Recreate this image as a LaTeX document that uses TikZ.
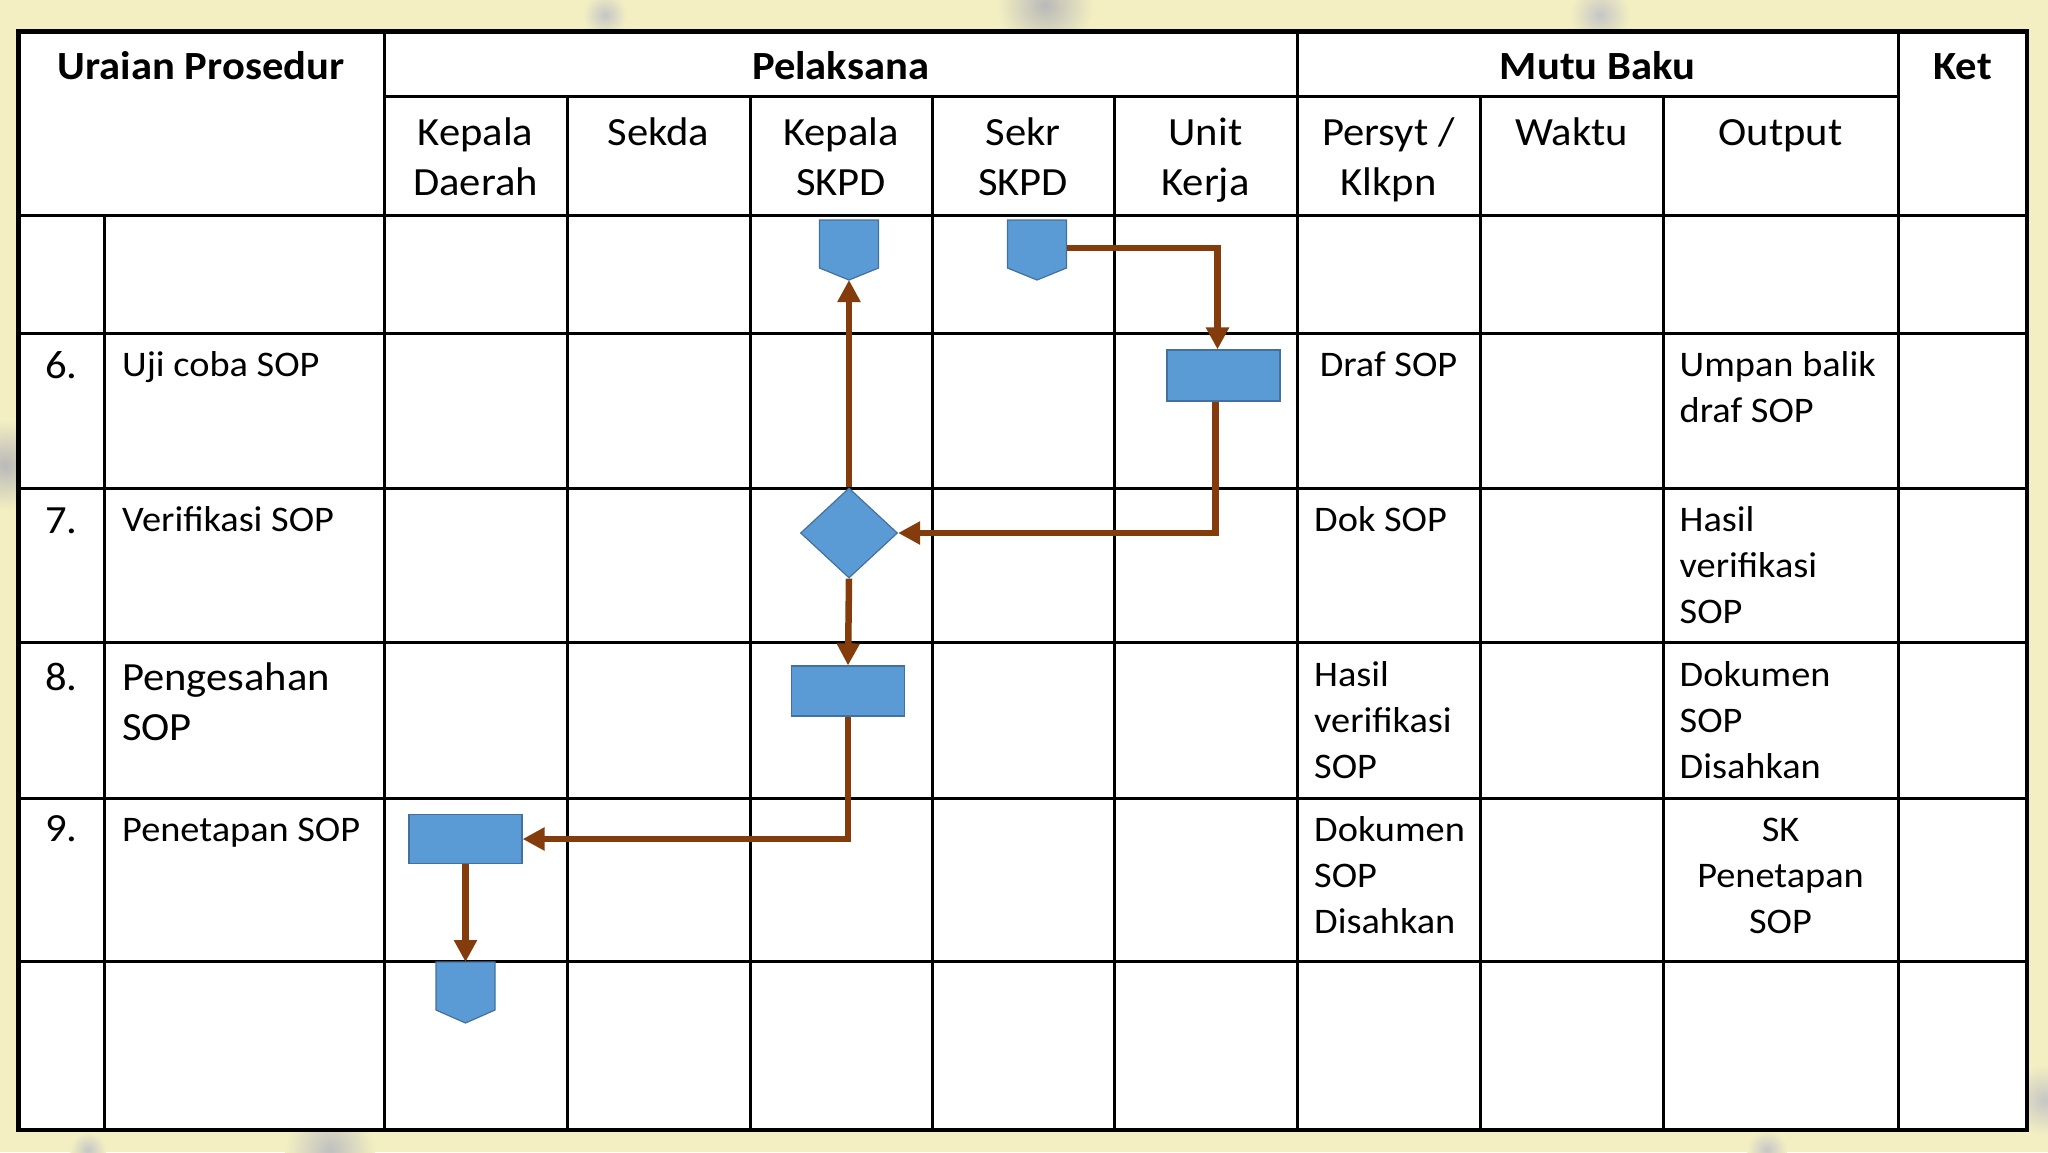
\documentclass[tikz,border=0pt]{standalone}
\usepackage{fontspec}
\setmainfont{Carlito}[FakeStretch=1.065]
\usetikzlibrary{arrows.meta,shapes.geometric}
\definecolor{bgc}{HTML}{F3EFC2}
\definecolor{arrc}{HTML}{843C0C}
\definecolor{shpf}{HTML}{5B9BD5}
\definecolor{shpd}{HTML}{41719C}
\begin{document}
\begin{tikzpicture}[x=1pt,y=-1pt,
  gridline/.style={line width=3pt, black},
  outerline/.style={line width=4.5pt, black},
  shp/.style={fill=shpf, draw=shpd, line width=1.2pt},
  arr/.style={draw=arrc, line width=6.5pt, -{Triangle[length=22pt,width=22pt]}},
  hb/.style={font=\bfseries\fontsize{40}{50}\selectfont, inner sep=0pt, anchor=base},
  hd/.style={font=\fontsize{40}{50}\selectfont, inner sep=0pt, anchor=base},
  num/.style={font=\fontsize{40}{50}\selectfont, inner sep=0pt, anchor=base},
  txt/.style={font=\fontsize{36}{46}\selectfont, inner sep=0pt, anchor=base west},
  txtc/.style={font=\fontsize{36}{46}\selectfont, inner sep=0pt, anchor=base},
  big/.style={font=\fontsize{40}{50}\selectfont, inner sep=0pt, anchor=base west},
]
% background
\useasboundingbox (0,0) rectangle (2048,1152);
\fill[bgc] (0,0) rectangle (2048,1152);
\shade[inner color=gray!55, outer color=bgc] (1045,5) circle (48);
\shade[inner color=gray!45, outer color=bgc] (605,15) circle (22);
\shade[inner color=gray!45, outer color=bgc] (1600,15) circle (30);
\shade[inner color=gray!55, outer color=bgc] (5,465) circle (45);
\shade[inner color=gray!50, outer color=bgc] (330,1150) circle (45);
\shade[inner color=gray!45, outer color=bgc] (88,1150) circle (18);
\shade[inner color=gray!45, outer color=bgc] (1767,1150) circle (20);
\shade[inner color=gray!45, outer color=bgc] (2045,1100) circle (35);

% table
\fill[white] (18.3,31.3) rectangle (2027,1130);
\foreach \yy in {215.5,333,488.5,642.6,798,961}
  \draw[gridline] (18.3,\yy) -- (2027,\yy);
\draw[gridline] (384,96.6) -- (1898,96.6);
\foreach \xx in {384,1297,1898}
  \draw[gridline] (\xx,31.3) -- (\xx,1130);
\foreach \xx in {567,750,932.5,1114,1480,1663}
  \draw[gridline] (\xx,96.6) -- (\xx,1130);
\draw[gridline] (104.5,215.5) -- (104.5,1130);
\draw[outerline] (18.3,31.3) rectangle (2027,1130);

% header texts
\node[hb] (hUraian) at (201,79) {Uraian Prosedur};
\node[hb] (hPel) at (840.5,79) {Pelaksana};
\node[hb] (hMutu) at (1597.5,79) {Mutu Baku};
\node[hb] (hKet) at (1962.5,79) {Ket};
\node[hd] (hKD) at (475.5,145) {\begin{tabular}[t]{@{}c@{}}Kepala\\Daerah\end{tabular}};
\node[hd] (hSekda) at (658.5,145) {Sekda};
\node[hd] (hKS) at (841,145) {\begin{tabular}[t]{@{}c@{}}Kepala\\SKPD\end{tabular}};
\node[hd] (hSS) at (1023,145) {\begin{tabular}[t]{@{}c@{}}Sekr\\SKPD\end{tabular}};
\node[hd] (hUK) at (1205.5,145) {\begin{tabular}[t]{@{}c@{}}Unit\\Kerja\end{tabular}};
\node[hd] (hPer) at (1388.5,145) {\begin{tabular}[t]{@{}c@{}}Persyt /\\Klkpn\end{tabular}};
\node[hd] (hWak) at (1571.5,145) {Waktu};
\node[hd] (hOut) at (1780.5,145) {Output};

% row labels
\node[num] (n6) at (61.4,378) {6.};
\node[num] (n7) at (61.4,533) {7.};
\node[num] (n8) at (61.4,690) {8.};
\node[num] (n9) at (61.4,841) {9.};
\node[txt] (l6) at (122,376) {Uji coba SOP};
\node[txt] (l7) at (122,531) {Verifikasi SOP};
\node[big] (l8) at (122,690) {\begin{tabular}[t]{@{}l@{}}Pengesahan\\SOP\end{tabular}};
\node[txt] (l9) at (122,841) {Penetapan SOP};

% persyaratan
\node[txtc] (p6) at (1388.5,376) {Draf SOP};
\node[txt] (p7) at (1314,531) {Dok SOP};
\node[txt] (p8) at (1314,686) {\begin{tabular}[t]{@{}l@{}}Hasil\\verifikasi\\SOP\end{tabular}};
\node[txt] (p9) at (1314,841) {\begin{tabular}[t]{@{}l@{}}Dokumen\\SOP\\Disahkan\end{tabular}};

% output
\node[txt] (o6) at (1679.5,376) {\begin{tabular}[t]{@{}l@{}}Umpan balik\\draf SOP\end{tabular}};
\node[txt] (o7) at (1679.5,531) {\begin{tabular}[t]{@{}l@{}}Hasil\\verifikasi\\SOP\end{tabular}};
\node[txt] (o8) at (1679.5,686) {\begin{tabular}[t]{@{}l@{}}Dokumen\\SOP\\Disahkan\end{tabular}};
\node[txtc] (o9) at (1780.5,841) {\begin{tabular}[t]{@{}c@{}}SK\\Penetapan\\SOP\end{tabular}};

% off-page connectors
\draw[shp] (819.5,220) -- (878.5,220) -- (878.5,268) -- (849,280) -- (819.5,268) -- cycle;
\coordinate (cAb) at (849,280);
\draw[shp] (1007.5,220) -- (1066.5,220) -- (1066.5,268) -- (1037,280) -- (1007.5,268) -- cycle;
\coordinate (cBr) at (1066.5,248);
\draw[shp] (436,962) -- (495,962) -- (495,1010) -- (465.5,1023) -- (436,1010) -- cycle;
\coordinate (cCt) at (465.5,962);

% process boxes and decision
\node[shp, rectangle, minimum width=113, minimum height=51, inner sep=0] (r1) at (1223.5,375.5) {};
\node[shp, diamond, minimum width=97, minimum height=90, inner sep=0] (d1) at (849,533) {};
\node[shp, rectangle, minimum width=113, minimum height=50, inner sep=0] (r2) at (848,691) {};
\node[shp, rectangle, minimum width=113, minimum height=49, inner sep=0] (r3) at (465.5,839) {};

% connectors
\draw[arr] (cBr) -| ([xshift=-6pt]r1.north);
\draw[arr] ([xshift=-8pt]r1.south) |- (d1.east);
\draw[arr] (d1.north) -- (cAb);
\draw[arr] (d1.south) -- (r2.north);
\draw[arr] (r2.south) |- (r3.east);
\draw[arr] (r3.south) -- (cCt);
\end{tikzpicture}
\end{document}
